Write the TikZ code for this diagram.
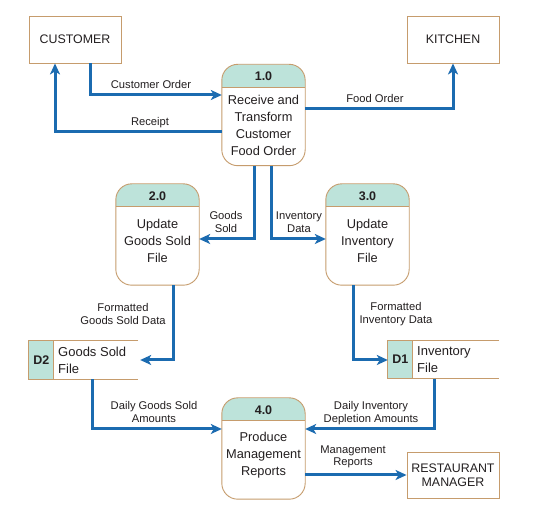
\documentclass[tikz,border=0pt]{standalone}
\usepackage{fontspec}
\setmainfont{Liberation Sans}
\usetikzlibrary{arrows.meta,calc}
\definecolor{brd}{HTML}{C69C6D}
\definecolor{hdr}{HTML}{BDE3DA}
\definecolor{flowc}{HTML}{1B6BB0}
\definecolor{txt}{HTML}{231F20}
\tikzset{
  procbox/.style={minimum width=83pt, minimum height=101pt, inner sep=0pt},
  brdline/.style={draw=brd, line width=0.9pt},
  entity/.style={draw=brd, line width=0.9pt, minimum width=92pt, minimum height=47pt, inner sep=0pt, font=\fontsize{12.4}{15}\selectfont, align=center, text=txt},
  storebox/.style={minimum height=38pt, inner sep=0pt},
  numtxt/.style={font=\fontsize{12.5}{14}\selectfont\bfseries, text=txt, inner sep=0pt},
  ptxt/.style={font=\fontsize{12.8}{17}\selectfont, align=center, text=txt, inner sep=0pt},
  stxt/.style={font=\fontsize{13}{17}\selectfont, align=left, text=txt, inner sep=0pt, anchor=west},
  lbl/.style={font=\fontsize{11.2}{12.5}\selectfont, align=center, text=txt, inner sep=0pt},
  flow/.style={draw=flowc, line width=3pt, -{Stealth[length=11pt,width=10pt,inset=3pt]}}
}
\newcommand\mkproc[3]{%
  \node[procbox] (#1) at (#2) {};
  \begin{scope}
    \clip[rounded corners=16pt] (#1.south west) rectangle (#1.north east);
    \fill[white] (#1.south west) rectangle (#1.north east);
    \fill[hdr] ([yshift=-23pt]#1.north west) rectangle (#1.north east);
  \end{scope}
  \draw[brdline, rounded corners=16pt] (#1.south west) rectangle (#1.north east);
  \draw[brdline] ([yshift=-23pt]#1.north west) -- ([yshift=-23pt]#1.north east);
  \node[numtxt] (#1n) at ([yshift=-12pt]#1.north) {#3};
}
\newcommand\mkstore[4]{% name, center, width, id
  \node[storebox, minimum width=#3] (#1) at (#2) {};
  \fill[hdr] (#1.south west) rectangle ([xshift=25pt]#1.north west);
  \draw[brdline] (#1.north east) -- (#1.north west) -- (#1.south west) -- (#1.south east);
  \draw[brdline] ([xshift=25pt]#1.north west) -- ([xshift=25pt]#1.south west);
  \node[numtxt, font=\fontsize{12.5}{14}\selectfont\bfseries] (#1n) at ([xshift=12.5pt]#1.west) {#4};
}
\begin{document}
\begin{tikzpicture}[x=1pt,y=1pt]
\useasboundingbox (0,0) rectangle (552,511);
\fill[white] (0,0) rectangle (552,511);

% entities
\node[entity] (cust) at (75,471.5) {CUSTOMER};
\node[entity] (kit) at (453,471.5) {KITCHEN};
\node[entity, minimum height=46pt] (rm) at (453,36) {RESTAURANT\\[-1pt]MANAGER};

% processes
\mkproc{p1}{263.5,396}{1.0}
\node[ptxt] (p1t) at (263.5,386) {Receive and\\Transform\\Customer\\Food Order};
\mkproc{p2}{157.5,276.5}{2.0}
\node[ptxt] (p2t) at (157.5,270) {Update\\Goods Sold\\File};
\mkproc{p3}{367.5,276.5}{3.0}
\node[ptxt] (p3t) at (367.5,270) {Update\\Inventory\\File};
\mkproc{p4}{263.5,62.5}{4.0}
\node[ptxt] (p4t) at (263.5,56) {Produce\\Management\\Reports};

% data stores
\mkstore{d2}{83.5,151}{109pt}{D2}
\node[stxt] (d2t) at (58,151) {Goods Sold\\File};
\mkstore{d1}{443.5,151.5}{111pt}{D1}
\node[stxt] (d1t) at (417,151.5) {Inventory\\File};

% flows
\draw[flow] ([xshift=15pt]cust.south) |- ([yshift=20pt]p1.west);
\draw[flow] ([yshift=-17pt]p1.west) -| ([xshift=-20pt]cust.south);
\draw[flow] ([yshift=6pt]p1.east) -| (kit.south);
\draw[flow] ([xshift=-9.5pt]p1.south) |- ([yshift=-4.5pt]p2.east);
\draw[flow] ([xshift=7.5pt]p1.south) |- ([yshift=-4.5pt]p3.west);
\draw[flow] ([xshift=15.5pt]p2.south) |- ([xshift=2pt]d2.east);
\draw[flow] ([xshift=-14.5pt]p3.south) |- ([yshift=-0.5pt]d1.west);
\draw[flow] ([xshift=8.5pt]d2.south) |- ([yshift=19.5pt]p4.west);
\draw[flow] ([xshift=-9.5pt]d1.south) |- ([yshift=19.5pt]p4.east);
\draw[flow] (rm.west -| p4.east) -- (rm.west);

% labels
\node[lbl] (l1) at (151,426) {Customer Order};
\node[lbl] (l2) at (150,388) {Receipt};
\node[lbl] (l3) at (375,412) {Food Order};
\node[lbl] (l4) at (226,289) {Goods\\Sold};
\node[lbl] (l5) at (299,289) {Inventory\\Data};
\node[lbl] (l6) at (123,197) {Formatted\\Goods Sold Data};
\node[lbl] (l7) at (396,197) {Formatted\\Inventory Data};
\node[lbl] (l8) at (154,99) {Daily Goods Sold\\Amounts};
\node[lbl] (l9) at (371,98) {Daily Inventory\\Depletion Amounts};
\node[lbl] (l10) at (353,54) {Management\\Reports};
\end{tikzpicture}
\end{document}
